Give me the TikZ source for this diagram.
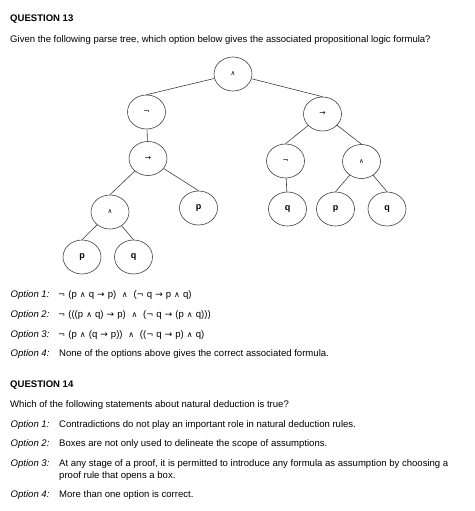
\documentclass[tikz,border=0pt]{standalone}
\usepackage{fontspec}
\setmainfont{Liberation Sans}
\newfontfamily\symf{DejaVu Sans}
\usetikzlibrary{shapes.geometric}
\newcommand{\nt}{{\symf\mdseries\fontsize{8.5}{10}\selectfont\char"00AC\hspace{0.4pt}}}
\newcommand{\an}{{\hspace{0.4pt}\symf\mdseries\fontsize{8}{10}\selectfont\char"2227\hspace{0.4pt}}}
\newcommand{\ar}{{\hspace{0.4pt}\symf\mdseries\fontsize{9}{10}\selectfont\char"2192\hspace{0.4pt}}}
\newcommand{\trnt}{{\symf\mdseries\fontsize{7}{8}\selectfont\char"00AC}}
\newcommand{\tran}{{\symf\mdseries\fontsize{6.5}{8}\selectfont\char"2227}}
\newcommand{\trar}{{\symf\mdseries\fontsize{7.5}{8}\selectfont\char"2192}}
\begin{document}
\begin{tikzpicture}[x=1pt,y=-1pt,
  tnode/.style={ellipse,draw=black!75,line width=0.6pt,minimum width=38pt,minimum height=34pt,inner sep=0pt,font=\fontsize{9}{10}\selectfont\bfseries},
  tedge/.style={draw=black!75,line width=0.6pt},
  txt/.style={anchor=mid west,inner sep=0pt,font=\fontsize{9.55}{11}\selectfont},
  opt/.style={anchor=mid west,inner sep=0pt,font=\fontsize{9.55}{11}\selectfont\itshape},
  head/.style={anchor=mid west,inner sep=0pt,font=\fontsize{9.55}{11}\selectfont\bfseries}]
\useasboundingbox (0,0) rectangle (474,511);
\fill[white] (0,0) rectangle (474,511);
% headings and text
\node[head] (q13) at (10,19) {QUESTION 13};
\node[txt] (q13t) at (10,40) {Given the following parse tree, which option below gives the associated propositional logic formula?};
% tree
\node[tnode] (root) at (233,74) {\tran};
\node[tnode] (n1) at (146.5,112) {\trnt};
\node[tnode] (i1) at (322.5,114) {\trar};
\node[tnode] (i2) at (148,158.5) {\trar};
\node[tnode] (n2) at (285.5,161) {\trnt};
\node[tnode] (a2) at (361.5,161.5) {\tran};
\node[tnode] (a1) at (110,212) {\tran};
\node[tnode] (p1) at (198.5,208) {p};
\node[tnode] (q1) at (287.5,209) {q};
\node[tnode] (p2) at (335.5,209) {p};
\node[tnode] (q2) at (387,209) {q};
\node[tnode] (p3) at (82,257) {p};
\node[tnode] (q3) at (133.5,257) {q};
\path[tedge] (root) -- (n1.north);
\path[tedge] (root) -- (i1.north);
\path[tedge] (n1) -- (i2);
\path[tedge] (i2) -- (a1.north);
\path[tedge] (i2) -- (p1.north);
\path[tedge] (a1) -- (p3.north);
\path[tedge] (a1) -- (q3.north);
\path[tedge] (i1) -- (n2.north);
\path[tedge] (i1) -- (a2.north);
\path[tedge] (n2) -- (q1);
\path[tedge] (a2) -- (p2.north);
\path[tedge] (a2) -- (q2.north);
% options Q13
\node[opt] (o1) at (10.5,295) {Option 1:};
\node[txt] (f1) at (58,295) {\nt\ (p \an\ q \ar\ p) \ \an\ \ (\nt\ q \ar\ p \an\ q)};
\node[opt] (o2) at (10.5,314.5) {Option 2:};
\node[txt] (f2) at (58,314.5) {\nt\ (((p \an\ q) \ar\ p) \ \an\ \ (\nt\ q \ar\ (p \an\ q)))};
\node[opt] (o3) at (10.5,334.5) {Option 3:};
\node[txt] (f3) at (58,334.5) {\nt\ (p \an\ (q \ar\ p)) \ \an\ \ ((\nt\ q \ar\ p) \an\ q)};
\node[opt] (o4) at (10.5,354) {Option 4:};
\node[txt] (f4) at (59,354) {None of the options above gives the correct associated formula.};
% Q14
\node[head] (q14) at (10,385) {QUESTION 14};
\node[txt] (q14t) at (10,404.5) {Which of the following statements about natural deduction is true?};
\node[opt] (p1o) at (10.5,424.5) {Option 1:};
\node[txt] (p1t) at (59,424.5) {Contradictions do not play an important role in natural deduction rules.};
\node[opt] (p2o) at (10.5,444) {Option 2:};
\node[txt] (p2t) at (59,444) {Boxes are not only used to delineate the scope of assumptions.};
\node[opt] (p3o) at (10.5,463.5) {Option 3:};
\node[txt] (p3t) at (59,463.5) {At any stage of a proof, it is permitted to introduce any formula as assumption by choosing a};
\node[txt] (p3u) at (59,475.5) {proof rule that opens a box.};
\node[opt] (p4o) at (10.5,495) {Option 4:};
\node[txt] (p4t) at (59,495) {More than one option is correct.};
\end{tikzpicture}
\end{document}
